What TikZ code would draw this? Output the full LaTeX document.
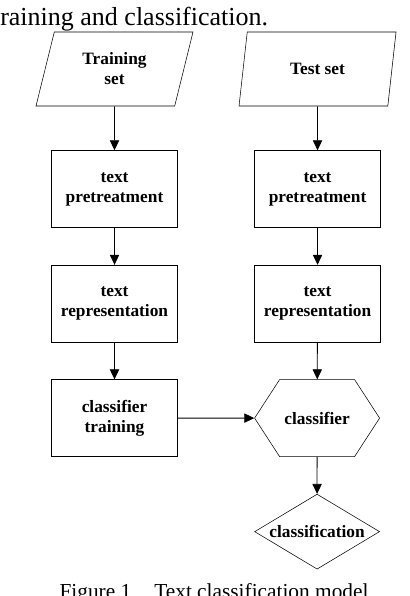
\documentclass[tikz,border=0pt]{standalone}
\usepackage{fontspec}
\setmainfont{Liberation Serif}
\usetikzlibrary{shapes.geometric, shapes.symbols, arrows.meta, positioning}

\begin{document}
\begin{tikzpicture}[
    proc/.style={rectangle, draw, minimum width=94.5pt, minimum height=57.75pt, align=center, inner sep=2pt, font=\bfseries\fontsize{13}{15}\selectfont},
    dataset/.style={trapezium, trapezium left angle=64, trapezium right angle=116, trapezium stretches body, draw, minimum width=117.75pt, minimum height=55.5pt, align=center, inner sep=2pt, font=\bfseries\fontsize{13}{15}\selectfont},
    model/.style={signal, signal to=west and east, signal pointer angle=114, draw, minimum width=93.75pt, minimum height=57.75pt, inner sep=2pt, font=\bfseries\fontsize{13}{15}\selectfont},
    decision/.style={diamond, draw, aspect=1.667, minimum width=93.75pt, minimum height=56.25pt, inner sep=0pt, font=\bfseries\fontsize{13}{15}\selectfont},
    flow/.style={-{Triangle[length=7.5pt, width=7pt]}, line width=0.6pt}
]
    \useasboundingbox (0,0) rectangle (307.5pt,-447pt);
    \clip (0,0) rectangle (307.5pt,-447pt);
    \node [anchor=base west, inner sep=0pt, font=\fontsize{19.5}{23}\selectfont] (heading) at (0,-19.5pt) {raining and classification.};

    \node [dataset] (trainset) at (85.875pt,-51.75pt) {Training\\set};
    \node [proc, below=33pt of trainset] (pretreat1) {text\\pretreatment};
    \node [proc, below=27.75pt of pretreat1] (repres1) {text\\representation};
    \node [proc, below=27.75pt of repres1] (clftrain) {classifier\\training};

    \node [proc, right=57.375pt of pretreat1] (pretreat2) {text\\pretreatment};
    \node [dataset, above=33pt of pretreat2] (testset) {Test set};
    \node [proc, right=57.375pt of repres1] (repres2) {text\\representation};
    \node [model, right=57.375pt of clftrain] (clf) {classifier};
    \node [decision, below=27.75pt of clf] (result) {classification};

    \node [anchor=base west, inner sep=0pt, font=\fontsize{16}{19}\selectfont] (caption) at (44.5pt,-448.5pt) {Figure 1\hspace{17.25pt}Text classification model};

    \draw [flow] (trainset) -- (pretreat1);
    \draw [flow] (pretreat1) -- (repres1);
    \draw [flow] (repres1) -- (clftrain);
    \draw [flow] (testset) -- (pretreat2);
    \draw [flow] (pretreat2) -- (repres2);
    \draw [flow] (repres2) -- (clf);
    \draw [flow] (clftrain) -- (clf);
    \draw [flow] (clf) -- (result);
\end{tikzpicture}
\end{document}
